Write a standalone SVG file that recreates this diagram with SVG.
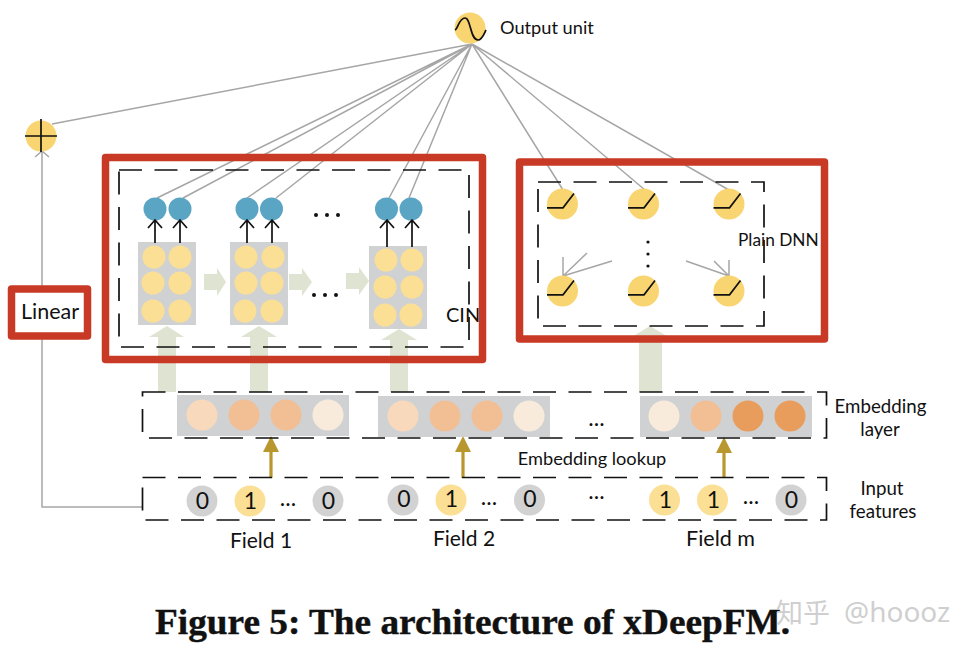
<svg xmlns="http://www.w3.org/2000/svg" width="976" height="652" viewBox="0 0 976 652">
<defs>
<style>
text{font-family:"Lato","Open Sans","Noto Sans",sans-serif;fill:#111}
.m{text-anchor:middle}
.conn{stroke:#a6a6a6;stroke-width:1.5;fill:none}
.dash{fill:none;stroke:#111;stroke-width:1.7;stroke-dasharray:23 12.5}
.red{stroke:#c83a26;stroke-width:7.5;stroke-linejoin:round}
.gr{fill:#d0d1d3}
.y{fill:#fbdf94}
.b{fill:#5ba5c4}
.g0{fill:#d2d2d2}
.big{fill:#f9d571}
.ink{stroke:#111;stroke-width:1.7;fill:none}
.bk{stroke:#111;stroke-width:1.7;fill:none}
.pale{fill:#dfe3d1}
.gold{stroke:#b9972f;stroke-width:3.2;fill:none}
.goldh{fill:#b9972f}
.d{font-size:23px}
.k{fill:#111}
</style>
<g id="ramp"><circle r="15.5" class="big"/><path class="ink" d="M-15.5 3.8H0.5L11.5-10.5"/></g>
<path id="ha" d="M-7 8L0 0L7 8M0 0V23" class="bk"/>
</defs>

<g id="connectors">
<path class="conn" d="M472 44L52 124M472 44L157 198M472 44L183 198M472 44L247 198M472 44L276 198M472 44L389 198M472 44L409 198M472 44L563 190M472 44L645 190M472 44L729 190"/>
<path class="conn" d="M142 507H42V151M35 157L42 151L49 157"/>
<path class="conn" d="M563 257V276M587 253L563 276M612 261L563 276M729 260V276M714 261L729 276M686 261L729 276"/>
<g class="pale">
<path d="M158 392V337H149L167 326L184 337H176V392Z"/>
<path d="M250 392V337H241L259 326L277 337H268V392Z"/>
<path d="M390 392V340H381L399 329L417 340H408V392Z"/>
<path d="M639 392V338H630L650 326L670 338H662V392Z"/>
<path d="M204 274H217V268L226 282L217 296V290H204Z"/>
<path d="M289 274H302V268L312 282L302 296V290H289Z"/>
<path d="M346 273H359V267L369 281L359 295V289H346Z"/>
</g>
<path class="gold" d="M271 478V450M463 478V450M724 478V451"/>
<path class="goldh" d="M271 436L279 452H263ZM463 436L471 452H455ZM724 437L732 453H716Z"/>
</g>

<g id="output-unit">
<circle cx="470" cy="28" r="15.5" class="big"/>
<path class="ink" d="M455 30C458 29 459 18 465 18C471 18 470 40 478 40C482 40 484 34 486 30"/>
<text x="500" y="34" font-size="18.200">Output unit</text>
</g>

<g id="sum-node">
<circle cx="41" cy="136" r="15.5" class="big"/>
<path class="ink" d="M41 119V152M25 136H57"/>
</g>

<g id="cin">
<rect class="gr" x="138" y="242" width="58" height="83"/>
<rect class="gr" x="230" y="242" width="58" height="83"/>
<rect class="gr" x="369" y="246" width="58" height="83"/>
<g class="y">
<circle cx="154" cy="257" r="11.5"/><circle cx="180" cy="257" r="11.5"/><circle cx="153" cy="283" r="11.5"/><circle cx="180" cy="283" r="11.5"/><circle cx="153" cy="311" r="11.5"/><circle cx="180" cy="311" r="11.5"/>
<circle cx="246" cy="257" r="11.5"/><circle cx="273" cy="257" r="11.5"/><circle cx="246" cy="283" r="11.5"/><circle cx="272" cy="283" r="11.5"/><circle cx="245" cy="311" r="11.5"/><circle cx="272" cy="311" r="11.5"/>
<circle cx="386" cy="260" r="11.5"/><circle cx="412" cy="260" r="11.5"/><circle cx="385" cy="287" r="11.5"/><circle cx="412" cy="287" r="11.5"/><circle cx="385" cy="315" r="11.5"/><circle cx="411" cy="315" r="11.5"/>
</g>
<g class="b">
<circle cx="155" cy="209" r="11.5"/><circle cx="180" cy="209" r="11.5"/><circle cx="247" cy="209" r="11.5"/><circle cx="271.500" cy="209" r="11.5"/><circle cx="386.500" cy="209" r="11.5"/><circle cx="411" cy="209" r="11.5"/>
</g>
<use href="#ha" x="155" y="220"/><use href="#ha" x="180" y="220"/><use href="#ha" x="247" y="220"/><use href="#ha" x="272" y="220"/>
<path class="bk" d="M380 228L387 220L394 228M387 220V247M405 228L412 220L419 228M412 220V247"/>
<g class="k">
<circle cx="316" cy="215" r="2"/><circle cx="327" cy="215" r="2"/><circle cx="338" cy="215" r="2"/>
<circle cx="314" cy="295" r="2"/><circle cx="325" cy="295" r="2"/><circle cx="336" cy="295" r="2"/>
</g>
<rect class="dash" x="119" y="170" width="350" height="177"/>
<text x="446" y="322" font-size="20">CIN</text>
<rect class="red" x="105.500" y="157.500" width="377" height="202" fill="none"/>
</g>

<g id="linear">
<rect class="red" x="11.500" y="289" width="76" height="47" fill="#fff"/>
<text x="50" y="319" font-size="21.500" class="m">Linear</text>
</g>

<g id="plain-dnn">
<use href="#ramp" x="562.500" y="204"/><use href="#ramp" x="643.500" y="204"/><use href="#ramp" x="729" y="204"/>
<use href="#ramp" x="562.500" y="291"/><use href="#ramp" x="643.500" y="291"/><use href="#ramp" x="729" y="291"/>
<g class="k"><circle cx="648" cy="242" r="1.600"/><circle cx="648" cy="254" r="1.600"/><circle cx="648" cy="266" r="1.600"/></g>
<rect class="dash" x="538" y="182" width="226" height="144"/>
<text x="738" y="246" font-size="17.300">Plain DNN</text>
<rect class="red" x="519.500" y="162" width="305" height="177" fill="none"/>
</g>

<g id="embedding-layer">
<rect class="gr" x="177" y="395" width="172" height="41"/>
<rect class="gr" x="378" y="396" width="172" height="41"/>
<rect class="gr" x="640" y="396" width="172" height="41"/>
<circle cx="202" cy="415" r="15.5" fill="#f8d9bc"/><circle cx="244" cy="415" r="15.5" fill="#f2be94"/><circle cx="286" cy="415" r="15.5" fill="#f2be94"/><circle cx="328" cy="415" r="15.5" fill="#f8ebdc"/>
<circle cx="403" cy="416" r="15.5" fill="#f8d9bc"/><circle cx="445" cy="416" r="15.5" fill="#f2be94"/><circle cx="487" cy="416" r="15.5" fill="#f2be94"/><circle cx="529" cy="416" r="15.5" fill="#f8ebdc"/>
<circle cx="664" cy="416" r="15.5" fill="#f8ebdc"/><circle cx="706" cy="416" r="15.5" fill="#f2be94"/><circle cx="748" cy="416" r="15.5" fill="#e99d5c"/><circle cx="790" cy="416" r="15.5" fill="#e99d5c"/>
<rect class="dash" x="142.500" y="392" width="684" height="46"/>
<text x="596.500" y="426" font-size="23" class="m">...</text>
<text x="880.500" y="413" font-size="18.700" class="m">Embedding</text>
<text x="880" y="436" font-size="18.700" class="m">layer</text>
</g>

<g id="input-features">
<circle cx="202" cy="501" r="15.5" class="g0"/><circle cx="250" cy="501" r="15.5" class="y"/><circle cx="328" cy="501" r="15.5" class="g0"/>
<circle cx="403" cy="500" r="15.5" class="g0"/><circle cx="451" cy="500" r="15.5" class="y"/><circle cx="529.500" cy="500" r="15.5" class="g0"/>
<circle cx="664.500" cy="500" r="15.5" class="y"/><circle cx="712.500" cy="500" r="15.5" class="y"/><circle cx="791" cy="500" r="15.5" class="g0"/>
<g class="m d">
<text x="202.500" y="509">0</text><text x="250.500" y="509">1</text><text x="328.500" y="509">0</text>
<text x="404" y="507">0</text><text x="451.500" y="507">1</text><text x="530" y="507">0</text>
<text x="665.500" y="508">1</text><text x="713.500" y="508">1</text><text x="791.500" y="508">0</text>
</g>
<g class="m" font-size="23">
<text x="288" y="506">...</text><text x="489" y="505">...</text><text x="596.500" y="499">...</text><text x="751" y="504">...</text>
</g>
<rect class="dash" x="142.500" y="477.500" width="684" height="42.500"/>
<text x="882" y="495" font-size="18.700" class="m">Input</text>
<text x="883" y="518" font-size="18.700" class="m">features</text>
</g>

<g id="labels">
<text x="592" y="465" font-size="18.200" class="m">Embedding lookup</text>
<text x="261" y="548" font-size="21" class="m">Field 1</text>
<text x="464" y="546" font-size="21" class="m">Field 2</text>
<text x="720.500" y="546" font-size="21.500" class="m">Field m</text>
<text x="155" y="634" font-size="35" font-weight="700" textLength="635" lengthAdjust="spacingAndGlyphs" style="font-family:'Liberation Serif',serif;stroke:#111;stroke-width:.4">Figure 5: The architecture of xDeepFM.</text>
<text x="776" y="623" font-size="27" style="font-family:'Noto Sans CJK SC','Noto Sans',sans-serif;fill:#cfcfcf">知乎</text>
<text x="844" y="622" font-size="28" style="font-family:'Noto Sans',sans-serif;fill:#cfcfcf">@hoooz</text>
</g>
</svg>
